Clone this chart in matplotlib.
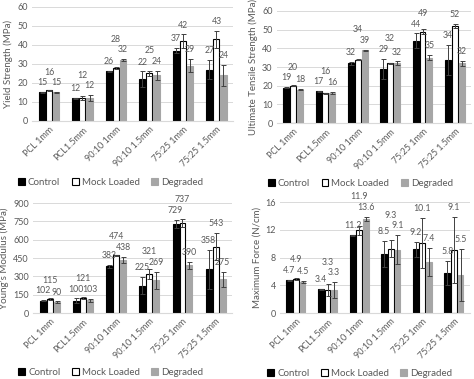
import numpy as np
import matplotlib
matplotlib.use("Agg")
import matplotlib.pyplot as plt
from matplotlib.patches import Patch

plt.rcParams["font.family"] = ["Lato", "DejaVu Sans"]

groups = ["PCL 1mm", "PCL1.5mm", "90:10 1mm", "90:10 1.5mm", "75:25 1mm", "75:25 1.5mm"]
series = ["Control", "Mock Loaded", "Degraded"]

# Yield strength (MPa)
ys_control = [15, 12, 26, 22, 37, 27]
ys_mock = [16, 12, 28, 25, 42, 43]
ys_degr = [15, 12, 32, 24, 29, 24]
ys_control_err = [0.3, 0.3, 0.5, 4, 1.5, 5]
ys_mock_err = [0.3, 1, 0.5, 1.2, 3.5, 4.5]
ys_degr_err = [0.3, 1.5, 0.5, 2.5, 3.5, 5.5]

# Ultimate tensile strength (MPa)
uts_control = [19, 17, 32, 29, 44, 34]
uts_mock = [20, 16, 34, 32, 49, 52]
uts_degr = [18, 16, 39, 32, 35, 32]
uts_control_err = [0.3, 0.3, 0.8, 5.5, 4, 8]
uts_mock_err = [0.3, 0.3, 0.3, 0.3, 1.5, 1]
uts_degr_err = [0.3, 0.5, 0.3, 1, 1.3, 1.5]

# Young's modulus (MPa)
ym_control = [102, 100, 383, 225, 729, 358]
ym_mock = [115, 121, 474, 321, 737, 543]
ym_degr = [90, 103, 438, 269, 390, 275]
ym_control_err = [5, 20, 10, 70, 35, 160]
ym_mock_err = [5, 10, 5, 40, 35, 110]
ym_degr_err = [5, 10, 25, 70, 30, 60]

# Maximum force (N/cm)
mf_control = [4.7, 3.4, 11.2, 8.5, 9.2, 5.8]
mf_mock = [4.9, 3.3, 11.9, 9.3, 10.1, 9.1]
mf_degr = [4.5, 3.3, 13.6, 9.1, 7.4, 5.5]
mf_control_err = [0.1, 0.1, 0.1, 1.9, 1.1, 1.7]
mf_mock_err = [0.1, 0.9, 0.6, 1.2, 3.6, 4.7]
mf_degr_err = [0.1, 1.2, 0.3, 2.1, 2.0, 3.8]

txt = "#595959"
colors = ["black", "white", "#a6a6a6"]
edges = ["black", "black", "#a6a6a6"]

fig = plt.figure(figsize=(4.74, 3.79), dpi=100)


def panel(rect, vals, errs, ylabel, ymax, ystep, fmt, leg_x):
    ax = fig.add_axes(rect)
    x = np.arange(len(groups))
    w = 0.18
    step = 0.21
    tops = []
    for i in range(3):
        v = np.array(vals[i])
        e = np.array(errs[i])
        xi = x + (i - 1) * step
        ax.bar(xi, v, w, color=colors[i], edgecolor=edges[i], linewidth=0.8, zorder=2)
        ax.errorbar(xi, v, yerr=e, fmt="none", ecolor="#404040", elinewidth=0.7,
                    capsize=1.8, capthick=0.7, zorder=3)
        tops.append(v + e)

    # value labels: middle one climbs above a neighbour label it would hit
    ppu = rect[3] * fig.get_figheight() * 72 / ymax
    pad, h = 3.5, 7.5
    for g in range(len(groups)):
        base = [tops[i][g] * ppu + pad for i in range(3)]
        mid = base[1]
        for _ in range(3):
            for j in (0, 2):
                if abs(mid - base[j]) < h:
                    mid = base[j] + h
        offs = [pad, mid - tops[1][g] * ppu, pad]
        for i in range(3):
            ax.annotate(fmt.format(vals[i][g]), (x[g] + (i - 1) * step, tops[i][g]),
                        xytext=(0, offs[i]), textcoords="offset points",
                        ha="center", va="bottom", fontsize=6.3, color=txt)
    ax.set_ylim(0, ymax)
    ax.set_yticks(np.arange(0, ymax + ystep / 2, ystep))
    ax.set_xlim(-0.5, len(groups) - 0.5)
    ax.set_xticks(x)
    ax.set_xticklabels(groups, rotation=45, ha="right", rotation_mode="anchor")
    ax.tick_params(axis="both", length=0, labelsize=6.5, colors=txt, pad=3)
    ax.set_ylabel(ylabel, fontsize=7, color=txt, labelpad=3)
    ax.grid(axis="y", color="#d9d9d9", linewidth=0.7, zorder=0)
    ax.set_axisbelow(True)
    for s in ["top", "right", "left"]:
        ax.spines[s].set_visible(False)
    ax.spines["bottom"].set_color("#d9d9d9")
    handles = [Patch(facecolor=colors[i], edgecolor=edges[i], linewidth=0.8) for i in range(3)]
    ax.legend(handles, series, loc="center", bbox_to_anchor=(leg_x, -0.54), ncol=3,
              frameon=False, fontsize=7, handlelength=0.7, handleheight=0.7,
              handletextpad=0.3, columnspacing=1.2, labelcolor=txt)
    return ax


panel([0.068, 0.681, 0.424, 0.301], [ys_control, ys_mock, ys_degr],
      [ys_control_err, ys_mock_err, ys_degr_err], "Yield Strength (MPa)", 60, 10, "{:g}", 0.39)
panel([0.584, 0.675, 0.41, 0.296], [uts_control, uts_mock, uts_degr],
      [uts_control_err, uts_mock_err, uts_degr_err], "Ultimate Tensile Strength (MPa)", 60, 10, "{:g}", 0.43)
panel([0.07, 0.174, 0.42, 0.29], [ym_control, ym_mock, ym_degr],
      [ym_control_err, ym_mock_err, ym_degr_err], "Young\u2019s Modulus (MPa)", 900, 150, "{:g}", 0.39)
panel([0.591, 0.174, 0.40, 0.293], [mf_control, mf_mock, mf_degr],
      [mf_control_err, mf_mock_err, mf_degr_err], "Maximum Force (N/cm)", 16, 4, "{:.1f}", 0.42)

fig.savefig("out.png", dpi=100)
